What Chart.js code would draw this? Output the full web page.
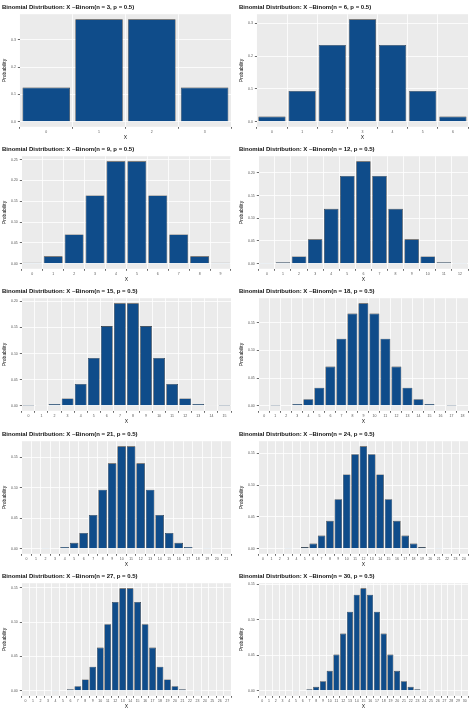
<!DOCTYPE html>
<html><head><meta charset="utf-8">
<script src="https://cdn.jsdelivr.net/npm/chart.js@4"></script>
<style>
body{margin:0;background:#fff;width:474px;height:711px;overflow:hidden}
#g{display:grid;grid-template-columns:237px 237px;grid-template-rows:repeat(5,142.2px)}
.c{position:relative;width:237px;height:142px}
</style></head><body><div id="g"></div>
<script>
const ns=[3,6,9,12,15,18,21,24,27,30];
const p3=[.125,.375,.375,.125];
const p6=[.0156,.0938,.2344,.3125,.2344,.0938,.0156];
const p9=[.0020,.0176,.0703,.1641,.2461,.2461,.1641,.0703,.0176,.0020];
const p12=[.0002,.0029,.0161,.0537,.1208,.1934,.2256,.1934,.1208,.0537,.0161,.0029,.0002];
const p15=[.00003,.0005,.0032,.0139,.0417,.0916,.1527,.1964,.1964,.1527,.0916,.0417,.0139,.0032,.0005,.00003];
const p18=[.0000,.0001,.0006,.0031,.0117,.0327,.0708,.1214,.1669,.1855,.1669,.1214,.0708,.0327,.0117,.0031,.0006,.0001,.0000];
const p21=[.0000,.0000,.0001,.0006,.0029,.0097,.0259,.0554,.0970,.1402,.1682,.1682,.1402,.0970,.0554,.0259,.0097,.0029,.0006,.0001,.0000,.0000];
const p24=[.0000,.0000,.0000,.0001,.0006,.0025,.0080,.0206,.0438,.0779,.1169,.1488,.1612,.1488,.1169,.0779,.0438,.0206,.0080,.0025,.0006,.0001,.0000,.0000,.0000];
const p27=[.0000,.0000,.0000,.0000,.0001,.0006,.0022,.0066,.0165,.0349,.0629,.0971,.1295,.1494,.1494,.1295,.0971,.0629,.0349,.0165,.0066,.0022,.0006,.0001,.0000,.0000,.0000,.0000];
const p30=[.0000,.0000,.0000,.0000,.0000,.0001,.0006,.0019,.0055,.0133,.0280,.0509,.0806,.1115,.1354,.1445,.1354,.1115,.0806,.0509,.0280,.0133,.0055,.0019,.0006,.0001,.0000,.0000,.0000,.0000,.0000];
const series=[p3,p6,p9,p12,p15,p18,p21,p24,p27,p30];
const bg={id:'bg',beforeDraw(c){const a=c.chartArea,x=c.ctx;x.save();x.fillStyle='#EBEBEB';x.fillRect(a.left,a.top,a.width,a.height);x.restore();}};
const F="'Liberation Sans',Arial,sans-serif";
ns.forEach((n,i)=>{
  const d=document.createElement('div');d.className='c';
  const cv=document.createElement('canvas');d.appendChild(cv);document.getElementById('g').appendChild(d);
  const vals=series[i];const labels=vals.map((_,k)=>String(k));
  const mx=Math.max(...vals);const step=n<=6?0.1:0.05;
  new Chart(cv,{type:'bar',data:{labels,datasets:[{data:vals,backgroundColor:'#0F4C8A',borderColor:'#2a2a2a',borderWidth:0.6,barPercentage:0.9,categoryPercentage:1}]},
  plugins:[bg],
  options:{responsive:true,maintainAspectRatio:false,animation:false,
    layout:{padding:{left:2,right:6,top:0,bottom:0}},
    plugins:{legend:{display:false},tooltip:{enabled:false},
      title:{display:true,text:'Binomial Distribution: X ~Binom(n = '+n+', p = 0.5)',align:'start',color:'#111',font:{family:F,size:6},padding:{top:4,bottom:3}}},
    scales:{
      x:{grid:{color:'#fff',lineWidth:0.8,drawTicks:true,tickLength:2,tickColor:'#444'},border:{display:false},
        ticks:{color:'#555',font:{family:F,size:3.5},padding:1,maxRotation:0,autoSkip:false},
        title:{display:true,text:'X',color:'#111',font:{family:F,size:5},padding:{top:0,bottom:1}}},
      y:{min:-mx*0.05,max:mx*1.05,grid:{color:'#fff',lineWidth:0.8,tickLength:2,tickColor:'#444'},border:{display:false},
        afterBuildTicks(ax){const t=[];for(let v=0;v<=mx*1.05+1e-9;v+=step)t.push({value:+v.toFixed(2)});ax.ticks=t;},
        ticks:{color:'#555',font:{family:F,size:3.5},padding:2,callback:v=>n<=6?v.toFixed(1):v.toFixed(2)},
        title:{display:true,text:'Probability',color:'#111',font:{family:F,size:5},padding:{top:0,bottom:1}}}
    }}});
});
</script></body></html>
